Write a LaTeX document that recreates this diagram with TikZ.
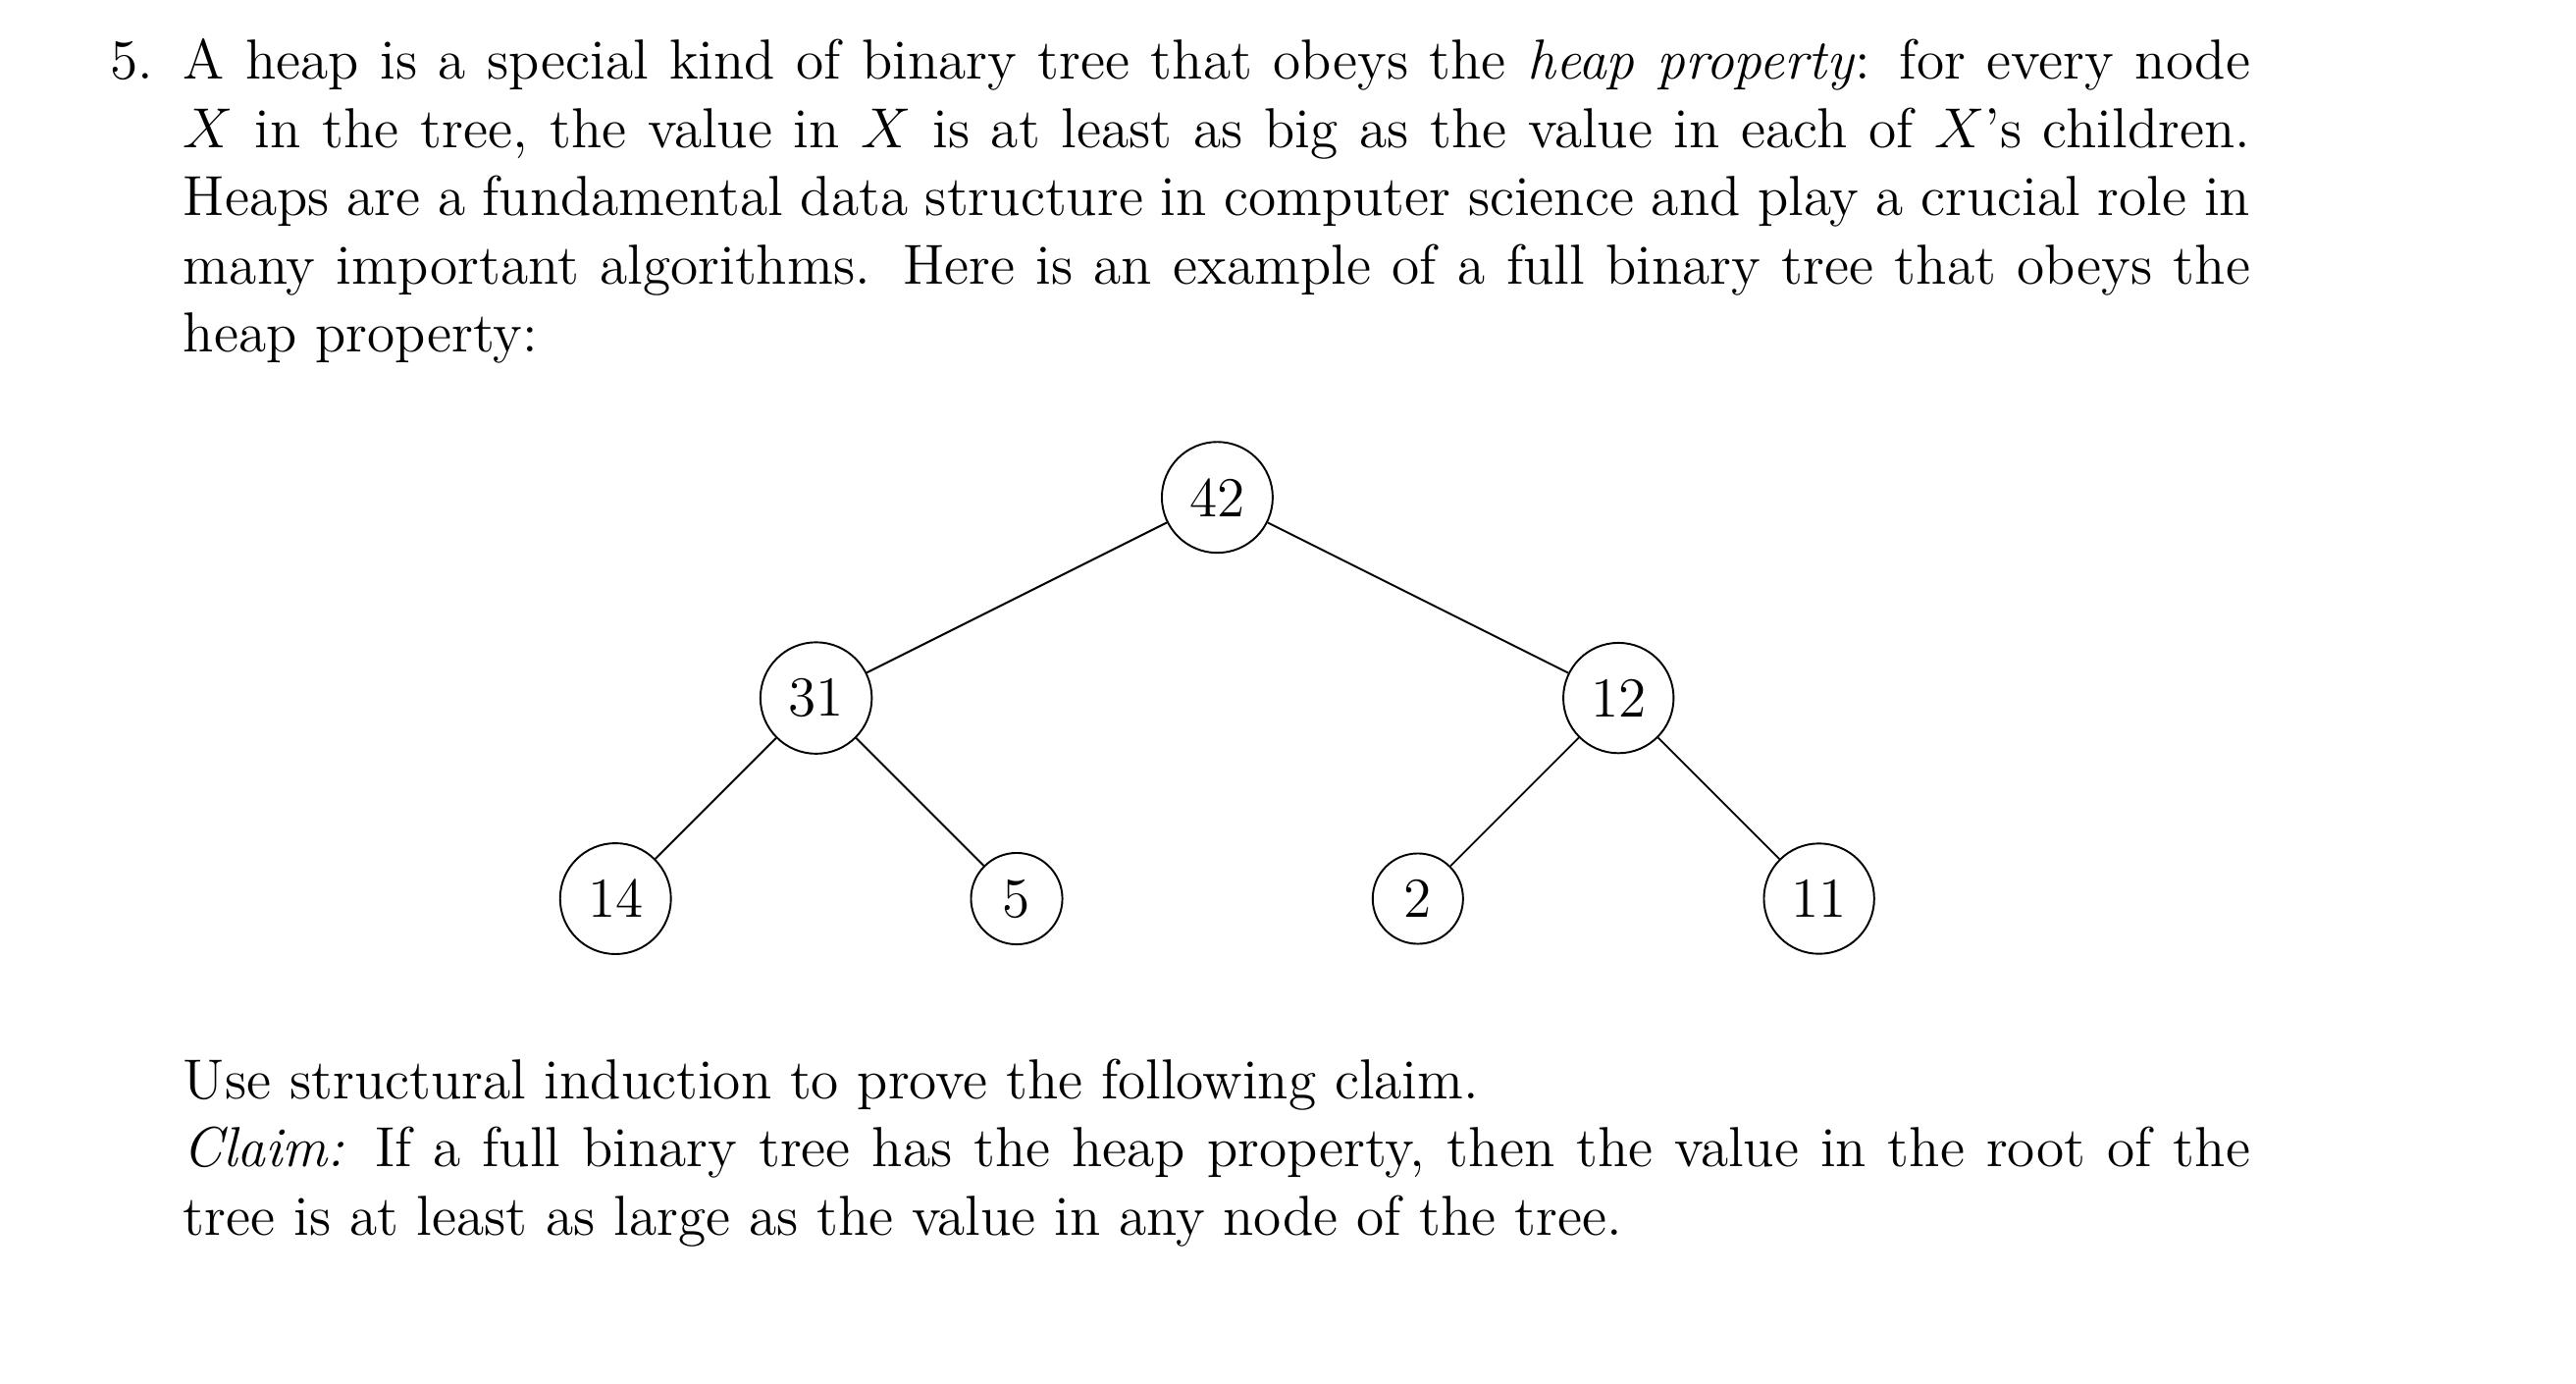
\documentclass[tikz,border=0pt]{standalone}
\usepackage{amsmath}
\usepackage{tikz}
\usetikzlibrary{positioning}

\begin{document}
\begin{tikzpicture}[node distance=1.5cm and 3cm, on grid,
		heap/.style={circle, draw, font=\fontsize{12}{14.5}\selectfont},
		teks/.style={inner sep=0pt, anchor=base west, text width=439.75pt, align=justify, font=\fontsize{12}{14.5}\selectfont}]
				% ukuran gambar
				\useasboundingbox (0,0) rectangle (548.1pt,-294.4pt);

				% teks soal
				\node (nomor) [inner sep=0pt, anchor=base east, font=\fontsize{12}{14.5}\selectfont] at (32.84pt,-16.9pt) {5.};
				\node (soal) [teks] at (38.84pt,-16.9pt) {A heap is a special kind of binary tree that obeys the \emph{heap property}: for every node\linebreak
					$X$ in the tree, the value in $X$ is at least as big as the value in each of $X$'s children.\linebreak
					Heaps are a fundamental data structure in computer science and play a crucial role in\linebreak
					many important algorithms. Here is an example of a full binary tree that obeys the\linebreak
					heap property:};
				\node (klaim) [teks] at (38.84pt,-233.7pt) {Use structural induction to prove the following claim.\\
					\emph{Claim:} If a full binary tree has the heap property, then the value in the root of the\linebreak
					tree is at least as large as the value in any node of the tree.};

				% pohon heap
				\node (n42) [heap] at (259.0pt,-105.8pt) {42};          % akar
				\node (n31) [heap, below left=of n42] {31};             % anak kiri
				\node (n12) [heap, below right=of n42] {12};            % anak kanan
				\node (n14) [heap, below left=1.5cm and 1.5cm of n31] {14};
				\node (n5) [heap, below right=1.5cm and 1.5cm of n31] {5};
				\node (n2) [heap, below left=1.5cm and 1.5cm of n12] {2};
				\node (n11) [heap, below right=1.5cm and 1.5cm of n12] {11};

				% garis koneksi
				\draw [] (n42) -- (n31);
				\draw [] (n42) -- (n12);
				\draw [] (n31) -- (n14);
				\draw [] (n31) -- (n5);
				\draw [] (n12) -- (n2);
				\draw [] (n12) -- (n11);
			\end{tikzpicture}
\end{document}
